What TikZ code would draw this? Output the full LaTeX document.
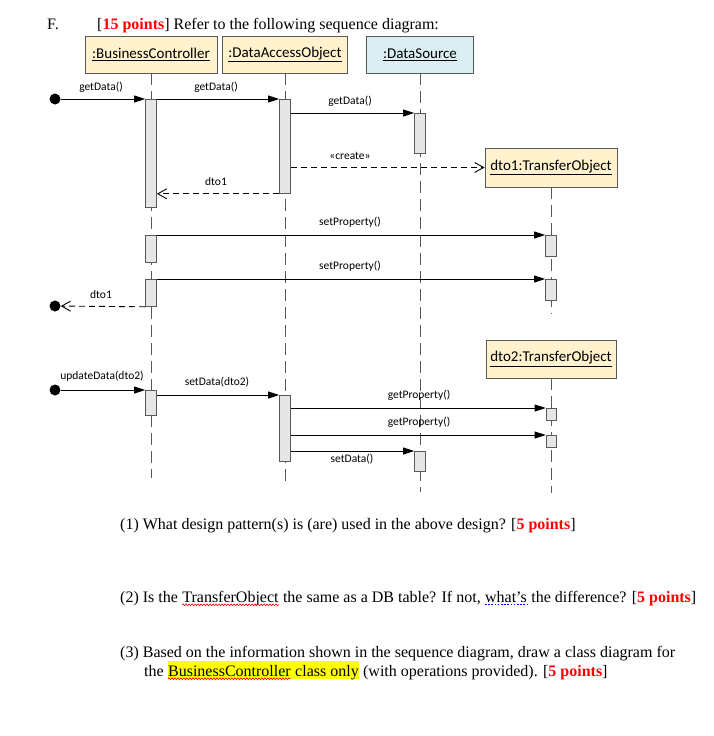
\documentclass[tikz,border=0pt]{standalone}
\usepackage{fontspec}
\setmainfont{Liberation Serif}
\newfontfamily\cali{Carlito}
\usetikzlibrary{arrows.meta,decorations.pathmorphing}
\definecolor{cream}{RGB}{255,242,204}
\definecolor{skyb}{RGB}{218,238,243}
\definecolor{bord}{RGB}{89,89,89}
\definecolor{actf}{RGB}{230,230,230}
\definecolor{ptred}{RGB}{255,0,0}
\definecolor{hl}{RGB}{255,255,0}
\begin{document}
\begin{tikzpicture}[x=1pt,y=-1pt,
  q/.style={font=\fontsize{16}{19}\selectfont, inner sep=0pt, anchor=base west},
  objbox/.style={draw=bord, line width=0.9pt, fill=cream, minimum height=37pt, inner sep=0pt, font=\cali\fontsize{15}{17}\selectfont},
  act/.style={draw=bord, fill=actf, line width=0.8pt, minimum width=11pt, inner sep=0pt, anchor=north},
  lifeline/.style={draw=bord, line width=0.9pt, dash pattern=on 12pt off 6pt},
  msg/.style={draw=black, line width=0.9pt, -{Triangle[length=11pt,width=7pt]}},
  ret/.style={draw=black, line width=0.9pt, dash pattern=on 6pt off 4pt, -{Straight Barb[length=9pt,width=10pt]}},
  lbl/.style={font=\cali\fontsize{11.5}{13}\selectfont, inner sep=0pt},
  startdot/.style={circle, fill=black, minimum size=11pt, inner sep=0pt}
]
\useasboundingbox (0,0) rectangle (713,736);

% header
\node[q] (hF) at (47,29) {F.};
\node[q] (hT) at (97,29) {[\textcolor{ptred}{\textbf{15 points}}] Refer to the following sequence diagram:};

% object boxes
\node[objbox, minimum width=132pt] (bc) at (151,54.5) {\underline{:BusinessController}};
\node[objbox, minimum width=125pt] (dao) at (285,54.5) {\underline{:DataAccessObject}};
\node[objbox, minimum width=107pt, fill=skyb] (ds) at (420,54.5) {\underline{:DataSource}};
\node[objbox, minimum width=132pt, minimum height=39pt] (dtoA) at (551,167.5) {\underline{dto1:TransferObject}};
\node[objbox, minimum width=130pt, minimum height=38pt] (dtoB) at (551,359) {\underline{dto2:TransferObject}};

% lifeline ends
\coordinate (bcEnd) at (151,478);
\coordinate (daoEnd) at (285,487);
\coordinate (dsEnd) at (420,492);
\coordinate (dtoAEnd) at (551,314);
\coordinate (dtoBEnd) at (551,493);

\draw[lifeline] (bc.south) -- (bcEnd);
\draw[lifeline] (dao.south) -- (daoEnd);
\draw[lifeline] (ds.south) -- (dsEnd);
\draw[lifeline] (dtoA.south) -- (dtoAEnd);
\draw[lifeline] (dtoB.south) -- (dtoBEnd);

% activations
\node[act, minimum height=108pt] (bcA1) at (151,99) {};
\node[act, minimum height=27pt] (bcA2) at (151,235) {};
\node[act, minimum height=27pt] (bcA3) at (151,279) {};
\node[act, minimum height=25pt] (bcA4) at (151,390) {};
\node[act, minimum height=94pt] (daoA1) at (285,99) {};
\node[act, minimum height=66pt] (daoA2) at (285,395) {};
\node[act, minimum height=40pt] (dsA1) at (420,113) {};
\node[act, minimum height=20pt] (dsA2) at (420,451) {};
\node[act, minimum height=21pt] (dtoAA1) at (551,235) {};
\node[act, minimum height=21pt] (dtoAA2) at (551,279) {};
\node[act, minimum height=12pt, minimum width=10pt] (dtoBA1) at (551,408) {};
\node[act, minimum height=12pt, minimum width=10pt] (dtoBA2) at (551,435) {};

% start dots
\node[startdot] (dot1) at (55,99) {};
\node[startdot] (dot2) at (55,306) {};
\node[startdot] (dot3) at (55,390) {};

% messages
\draw[msg] (dot1) -- (bcA1.north west);
\draw[msg] (bcA1.north east) -- (daoA1.north west);
\draw[msg] (daoA1.east |- dsA1.north) -- (dsA1.north west);
\draw[ret] (daoA1.east |- dtoA.west) -- (dtoA.west);
\draw[ret] (daoA1.south west) -- (bcA1.east |- daoA1.south);
\draw[msg] (bcA2.north east) -- (dtoAA1.north west);
\draw[msg] (bcA3.north east) -- (dtoAA2.north west);
\draw[ret] (bcA3.south west) -- (dot2);
\draw[msg] (dot3) -- (bcA4.north west);
\draw[msg] (bcA4.east |- daoA2.north) -- (daoA2.north west);
\draw[msg] (daoA2.east |- dtoBA1.north) -- (dtoBA1.north west);
\draw[msg] (daoA2.east |- dtoBA2.north) -- (dtoBA2.north west);
\draw[msg] (daoA2.east |- dsA2.north) -- (dsA2.north west);

% message labels
\node[lbl] (lGD1) at (101,87) {getData()};
\node[lbl] (lGD2) at (216,87) {getData()};
\node[lbl] (lGD3) at (350,101) {getData()};
\node[lbl] (lCr) at (350,156) {«create»};
\node[lbl] (lDtoA) at (216,182) {dto1};
\node[lbl] (lSP1) at (350,222) {setProperty()};
\node[lbl] (lSP2) at (350,266) {setProperty()};
\node[lbl] (lDtoB) at (101,295) {dto1};
\node[lbl] (lUpd) at (102,376) {updateData(dto2)};
\node[lbl] (lSD2) at (217,382) {setData(dto2)};
\node[lbl] (lGP1) at (419,395) {getProperty()};
\node[lbl] (lGP2) at (419,422) {getProperty()};
\node[lbl] (lSD) at (352,459) {setData()};

% questions
\node[q] (q1) at (120,529) {(1) What design pattern(s) is (are) used in the above design? [\textcolor{ptred}{\textbf{5 points}}]};

\node[q] (q2a) at (120,602) {(2) Is the\kern\fontdimen2\font};
\node[q] (q2b) at (q2a.base east) {TransferObject};
\node[q] (q2c) at (q2b.base east) {\kern\fontdimen2\font the same as a DB table? If not,\kern\fontdimen2\font};
\node[q] (q2d) at (q2c.base east) {what’s};
\node[q] (q2e) at (q2d.base east) {\kern\fontdimen2\font the difference? [\textcolor{ptred}{\textbf{5 points}}]};
\draw[ptred, line width=0.6pt, decorate, decoration={snake, amplitude=0.9pt, segment length=3pt}]
  ([yshift=-2.8pt]q2b.base west) -- ([yshift=-2.8pt]q2b.base east);
\draw[blue, line width=1.3pt, dash pattern=on 1.6pt off 1.6pt]
  ([yshift=-2.5pt]q2d.base west) -- ([yshift=-2.5pt]q2d.base east);

\node[q] (q3a) at (120,657) {(3) Based on the information shown in the sequence diagram, draw a class diagram for};
\node[q] (q3b) at (144,676) {the\kern\fontdimen2\font};
\node[q, fill=hl, text height=15pt, text depth=3pt] (q3c) at (q3b.base east) {BusinessController};
\node[q, fill=hl, text height=15pt, text depth=3pt] (q3d) at (q3c.base east) {\kern\fontdimen2\font class only};
\node[q] (q3e) at (q3d.base east) {\kern\fontdimen2\font(with operations provided). [\textcolor{ptred}{\textbf{5 points}}]};
\draw[ptred, line width=0.6pt, decorate, decoration={snake, amplitude=0.9pt, segment length=3pt}]
  ([yshift=-2.8pt]q3c.base west) -- ([yshift=-2.8pt]q3c.base east);
\end{tikzpicture}
\end{document}
